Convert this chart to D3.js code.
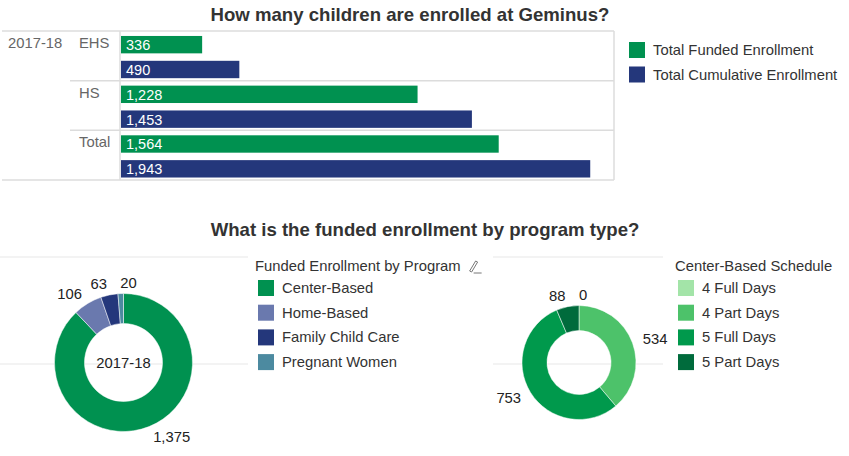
<!DOCTYPE html>
<html>
<head>
<meta charset="utf-8">
<script src="https://cdn.jsdelivr.net/npm/d3@7"></script>
<style>
  html, body { margin: 0; padding: 0; background: #fff; }
  svg { display: block; font-family: "Liberation Sans", Arial, sans-serif; }
</style>
</head>
<body>
<svg id="chart" width="849" height="456"></svg>
<script>
// ---------- DATA ----------
const yearLabel = "2017-18";
const barGroups = ["EHS", "HS", "Total"];
const barSeries = ["Total Funded Enrollment", "Total Cumulative Enrollment"];
const fundedValues = [336, 1228, 1564];
const cumulativeValues = [490, 1453, 1943];

const programCategories = ["Center-Based", "Home-Based", "Family Child Care", "Pregnant Women"];
const programValues = [1375, 106, 63, 20];

const scheduleCategories = ["4 Full Days", "4 Part Days", "5 Full Days", "5 Part Days"];
const scheduleValues = [0, 534, 753, 88];

const titleTop = "How many children are enrolled at Geminus?";
const titleBottom = "What is the funded enrollment by program type?";
const programLegendTitle = "Funded Enrollment by Program";
const scheduleLegendTitle = "Center-Based Schedule";

// ---------- STYLES ----------
const seriesColors = ["#009150", "#24377b"];
const programColors = ["#009150", "#6a79ae", "#24377b", "#4c8aa0"];
const scheduleColors = ["#a3e4a8", "#4dc26a", "#00994c", "#006b3c"];
const fmt = d3.format(",");
const FS = 14.8;

const svg = d3.select("#chart");

// ---------- TOP: BAR TABLE ----------
svg.append("text").attr("x", 410).attr("y", 14)
  .attr("text-anchor", "middle").attr("dominant-baseline", "central")
  .attr("font-size", 18.6).attr("font-weight", "bold").attr("fill", "#333")
  .text(titleTop);

const rows = [];
barGroups.forEach((g, i) => {
  rows.push({ group: g, series: 0, value: fundedValues[i], key: g + "|0" });
  rows.push({ group: g, series: 1, value: cumulativeValues[i], key: g + "|1" });
});

const tableTop = 31, tableBottom = 180, tableLeft = 2, tableRight = 614, divX = 120;
const y = d3.scaleBand().domain(rows.map(r => r.key)).range([tableTop, tableBottom]);
const x = d3.scaleLinear().domain([0, 2000]).range([divX + 1, 604]);

const grid = svg.append("g").attr("stroke", "#dcdcdc").attr("stroke-width", 1.5).attr("fill", "none");
grid.append("line").attr("x1", tableLeft).attr("x2", tableRight).attr("y1", tableTop).attr("y2", tableTop);
grid.append("line").attr("x1", tableLeft).attr("x2", tableRight).attr("y1", tableBottom).attr("y2", tableBottom);
grid.append("line").attr("x1", divX).attr("x2", divX).attr("y1", tableTop).attr("y2", tableBottom);
grid.append("line").attr("x1", tableRight).attr("x2", tableRight).attr("y1", tableTop).attr("y2", tableBottom);
barGroups.slice(1).forEach(g => {
  const yy = y(g + "|0");
  grid.append("line").attr("x1", 70).attr("x2", tableRight).attr("y1", yy).attr("y2", yy);
});

svg.append("text").attr("x", 8).attr("y", y(barGroups[0] + "|0") + 12)
  .attr("dominant-baseline", "central").attr("font-size", FS).attr("fill", "#666")
  .text(yearLabel);

svg.append("g").selectAll("text").data(barGroups).join("text")
  .attr("x", 79).attr("y", g => y(g + "|0") + 12)
  .attr("dominant-baseline", "central").attr("font-size", FS).attr("fill", "#666")
  .text(g => g);

const bh = y.bandwidth();
svg.append("g").selectAll("rect").data(rows).join("rect")
  .attr("x", x(0)).attr("y", d => y(d.key) + bh * 0.2)
  .attr("width", d => x(d.value) - x(0)).attr("height", bh * 0.7)
  .attr("fill", d => seriesColors[d.series]);

svg.append("g").selectAll("text").data(rows).join("text")
  .attr("x", x(0) + 5).attr("y", d => y(d.key) + bh * 0.2 + bh * 0.35 + 0.5)
  .attr("dominant-baseline", "central").attr("font-size", 14.5).attr("fill", "#fff")
  .text(d => fmt(d.value));

const lg1 = svg.append("g").selectAll("g").data(barSeries).join("g")
  .attr("transform", (d, i) => `translate(629, ${42 + i * 24.5})`);
lg1.append("rect").attr("width", 16).attr("height", 16).attr("fill", (d, i) => seriesColors[i]);
lg1.append("text").attr("x", 24).attr("y", 8).attr("dominant-baseline", "central")
  .attr("font-size", FS).attr("fill", "#333").text(d => d);

// ---------- BOTTOM ----------
svg.append("text").attr("x", 425).attr("y", 229)
  .attr("text-anchor", "middle").attr("dominant-baseline", "central")
  .attr("font-size", 18.6).attr("font-weight", "bold").attr("fill", "#333")
  .text(titleBottom);

const faint = svg.append("g").attr("stroke", "#efefef").attr("stroke-width", 1.5);
[257, 364].forEach(yy => {
  faint.append("line").attr("x1", 0).attr("x2", 248).attr("y1", yy).attr("y2", yy);
  faint.append("line").attr("x1", 493).attr("x2", 663).attr("y1", yy).attr("y2", yy);
});

function donut(cx, cy, rOuter, rInner, values, colors, centerText) {
  const pie = d3.pie().sort(null).value(d => d)(values);
  const arc = d3.arc().innerRadius(rInner).outerRadius(rOuter);
  const g = svg.append("g").attr("transform", `translate(${cx},${cy})`);
  g.selectAll("path").data(pie).join("path")
    .attr("d", arc).attr("fill", (d, i) => colors[i])
    .attr("stroke", "#fff").attr("stroke-width", 0.5);
  const rl = rOuter + 11;
  g.selectAll("text.lbl").data(pie).join("text").attr("class", "lbl")
    .each(function(d) {
      const a = (d.startAngle + d.endAngle) / 2;
      const s = Math.sin(a), c = Math.cos(a);
      d3.select(this)
        .attr("x", rl * s).attr("y", -rl * c)
        .attr("text-anchor", s >= -0.1 ? "start" : "end");
    })
    .attr("dominant-baseline", "central").attr("font-size", FS).attr("fill", "#222")
    .text(d => fmt(d.data));
  if (centerText) {
    g.append("text").attr("text-anchor", "middle").attr("dominant-baseline", "central")
      .attr("font-size", FS).attr("fill", "#222").text(centerText);
  }
}

donut(123.5, 362.5, 69, 39, programValues, programColors, yearLabel);
donut(579, 362.5, 57, 32, scheduleValues, scheduleColors, null);

function legend(x0, titleText, cats, colors, pencil) {
  const g = svg.append("g");
  const t = g.append("text").attr("x", x0 - 3).attr("y", 266).attr("dominant-baseline", "central")
    .attr("font-size", FS).attr("fill", "#333").text(titleText);
  if (pencil) {
    const w = t.node().getComputedTextLength();
    const px = x0 - 3 + w + 8;
    const p = g.append("g").attr("transform", `translate(${px},266)`)
      .attr("fill", "none").attr("stroke", "#777").attr("stroke-width", 1);
    p.append("path").attr("d", "M1,5 L7,-5 L9,-4 L3,6 Z");
    p.append("line").attr("x1", 5).attr("x2", 13).attr("y1", 7).attr("y2", 7);
  }
  const items = g.selectAll("g.item").data(cats).join("g").attr("class", "item")
    .attr("transform", (d, i) => `translate(${x0}, ${280 + i * 24.7})`);
  items.append("rect").attr("width", 16).attr("height", 16).attr("fill", (d, i) => colors[i]);
  items.append("text").attr("x", 24).attr("y", 8).attr("dominant-baseline", "central")
    .attr("font-size", FS).attr("fill", "#333").text(d => d);
}

legend(258, programLegendTitle, programCategories, programColors, true);
legend(678, scheduleLegendTitle, scheduleCategories, scheduleColors, false);
</script>
</body>
</html>
